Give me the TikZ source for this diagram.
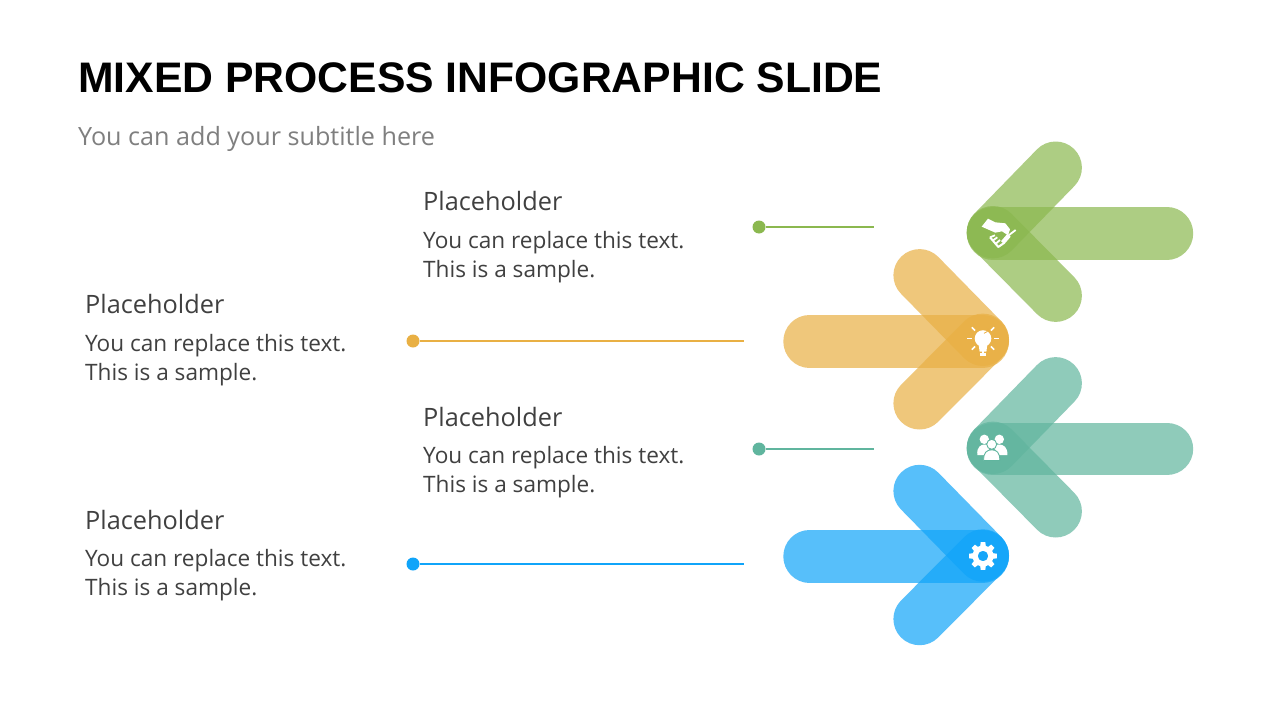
\documentclass[tikz,border=0pt]{standalone}
\usepackage{fontspec}
\setmainfont{Open Sans}
\newfontfamily\titlefont{Liberation Sans}
\definecolor{cgreen}{HTML}{8BB84F}
\definecolor{corange}{HTML}{E9B044}
\definecolor{cteal}{HTML}{60B59E}
\definecolor{cblue}{HTML}{10A4F9}
\definecolor{txt}{HTML}{404040}
\definecolor{sub}{HTML}{7F7F7F}
\tikzset{
  pill/.style={line width=52.4pt,line cap=round,draw opacity=.7},
  leader/.style={line width=1.5pt},
  dotnode/.style={circle,inner sep=0pt,minimum size=13pt},
  headtext/.style={anchor=base west,inner sep=0pt,text=txt,font=\fontsize{25.3}{30}\selectfont},
  bodytext/.style={anchor=north west,inner sep=0pt,text=txt,align=left,font=\fontsize{22.6}{29}\selectfont},
  icon/.style={fill=white,draw=none}
}
% arrow: #1 colour, #2 bar far x, #3 bar y, #4 tip x, #5 pill far x, #6 pill upper y, #7 pill lower y, #8 meet y
\newcommand{\arrowshape}[8]{%
  \draw[pill,#1] (#2,#3) -- (#4,#3);
  \draw[pill,#1] (#5,#6) -- (#4,#8);
  \draw[pill,#1] (#5,#7) -- (#4,#8);
}
\begin{document}
\begin{tikzpicture}[x=1pt,y=-1pt]
\useasboundingbox (0,0) rectangle (1280,720);
\fill[white] (0,0) rectangle (1280,720);

\node[anchor=base west,inner sep=0pt,font=\titlefont\bfseries\fontsize{42.7}{50}\selectfont] (title) at (78,92) {MIXED PROCESS INFOGRAPHIC SLIDE};
\node[anchor=base west,inner sep=0pt,text=sub,font=\fontsize{25.15}{30}\selectfont] (subtitle) at (78,145) {You can add your subtitle here};

% arrows
\arrowshape{cgreen}{1167}{233.3}{992.9}{1055.7}{167.7}{295.7}{232.2}
\arrowshape{corange}{809.5}{341.3}{982.8}{919.6}{275.3}{403.3}{339.8}
\arrowshape{cteal}{1167}{448.8}{992.9}{1055.7}{383.3}{511.3}{447.8}
\arrowshape{cblue}{809.5}{556.3}{982.8}{919.6}{491}{619}{555.5}

% leaders
\node[dotnode,fill=cgreen] (d1) at (759,227) {};
\coordinate (e1) at (874,227);
\draw[leader,cgreen] (d1) -- (e1);
\node[dotnode,fill=corange] (d2) at (413,341) {};
\coordinate (e2) at (744,341);
\draw[leader,corange] (d2) -- (e2);
\node[dotnode,fill=cteal] (d3) at (759,449) {};
\coordinate (e3) at (874,449);
\draw[leader,cteal] (d3) -- (e3);
\node[dotnode,fill=cblue] (d4) at (413,564) {};
\coordinate (e4) at (744,564);
\draw[leader,cblue] (d4) -- (e4);

% text
\node[headtext] (h1) at (423,210) {Placeholder};
\node[bodytext] (b1) at (423,231) {You can replace this text.\\This is a sample.};
\node[headtext] (h2) at (85,313) {Placeholder};
\node[bodytext] (b2) at (85,334) {You can replace this text.\\This is a sample.};
\node[headtext] (h3) at (423,426) {Placeholder};
\node[bodytext] (b3) at (423,446) {You can replace this text.\\This is a sample.};
\node[headtext] (h4) at (85,529) {Placeholder};
\node[bodytext] (b4) at (85,549) {You can replace this text.\\This is a sample.};

% handshake icon
\begin{scope}[shift={(950,130)},x=.3333pt,y=-.3333pt]
  \fill[icon] (95,290) -- (114,266) -- (136,277) -- (166,280) -- (180,298) -- (174,316) -- (156,304) -- (136,308) -- cycle;
  \draw[white,line width=2pt,line join=round] (120,322) -- (145,351) -- (162,339);
  \draw[white,line width=1.8pt] (120,322) -- (135,316) (128,332) -- (142,322) (136,342) -- (150,330);
  \draw[white,line width=4.4pt] (158,338) -- (177,316);
  \draw[white,line width=1.8pt] (176,316) -- (197,300);
\end{scope}

% bulb icon
\begin{scope}[shift={(983,338.5)}]
  \fill[icon] (0,0) circle (8.3);
  \fill[icon] (-4.4,5.5) -- (4.4,5.5) -- (3.4,13) -- (-3.4,13) -- cycle;
  \fill[icon] (-3.4,14) rectangle (3.4,17);
  \draw[corange,line width=.8pt] (1,-5.2) arc (80:10:5.2);
  \foreach \a in {0,45,135,180,225,315}
    \draw[white,line width=1.6pt] (\a:11.2) -- (\a:15.8);
  \draw[white,line width=1.6pt] (90:11.2) -- (90:15.8);
\end{scope}

% people icon
\begin{scope}[shift={(992,448)}]
  \fill[icon] (-7.7,-8.7) circle (4.7) (7.3,-8.7) circle (4.7);
  \fill[icon] (-14.7,7) .. controls (-15.5,-1) and (-11,-3.5) .. (-7.7,-3.5) .. controls (-4,-3.5) and (-2,-2) .. (-2,0) -- (-7,7) -- cycle;
  \fill[icon] (15.3,7) .. controls (16,-1) and (11,-3.5) .. (7.3,-3.5) .. controls (4,-3.5) and (2,-2) .. (2,0) -- (7,7) -- cycle;
  \draw[icon,draw=cteal,line width=.9pt] (-.3,-3.7) circle (5);
  \draw[icon,draw=cteal,line width=.9pt] (-8.3,12.5) .. controls (-8.8,4.5) and (-5,1.8) .. (-.3,1.8) .. controls (4.4,1.8) and (8.2,4.5) .. (7.7,12.5) -- cycle;
\end{scope}

% gear icon
\begin{scope}[shift={(983,556)}]
  \fill[icon,even odd rule] (0,0) circle (10.5) (0,0) circle (5.3);
  \foreach \a in {0,45,...,315}
    \fill[icon,rotate=\a] (8.5,-3) -- (13.8,-2.3) -- (13.8,2.3) -- (8.5,3) -- cycle;
\end{scope}
\end{tikzpicture}
\end{document}
